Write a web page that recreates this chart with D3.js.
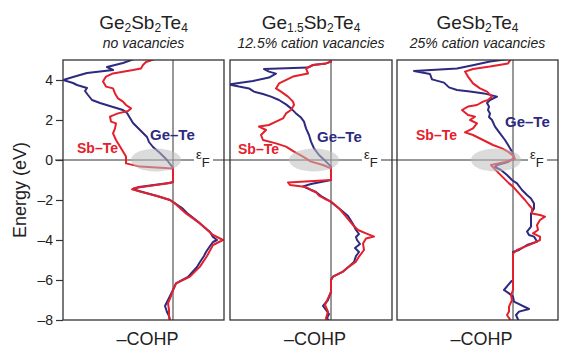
<!DOCTYPE html>
<html>
<head>
<meta charset="utf-8">
<script src="https://cdn.jsdelivr.net/npm/d3@7"></script>
<style>
  body { margin: 0; background: #fff; }
  svg { font-family: "Liberation Sans", Arial, Helvetica, sans-serif; }
</style>
</head>
<body>
<svg width="584" height="362"></svg>
<script>
// energy axis (eV)
const energyTicks = [-8, -6, -4, -2, 0, 2, 4];
const energyDomain = [-8, 5];

// panel titles: [text, subscript?]
const titles = [
  [["Ge", 0], ["2", 1], ["Sb", 0], ["2", 1], ["Te", 0], ["4", 1]],
  [["Ge", 0], ["1.5", 1], ["Sb", 0], ["2", 1], ["Te", 0], ["4", 1]],
  [["Ge", 0], ["Sb", 0], ["2", 1], ["Te", 0], ["4", 1]]
];
const subtitles = ["no vacancies", "12.5% cation vacancies", "25% cation vacancies"];

// -COHP (arb. units) vs energy, [E, -COHP]
const geTe1 = [[5.1,-36],[4.85,-50],[4.65,-66],[4.5,-60],[4.35,-86],[4.15,-100],[4.0,-110],[3.85,-100],[3.75,-96],
  [3.6,-86],[3.45,-88],[3.25,-85],[3.0,-81],[2.85,-73],[2.65,-60],[2.5,-50],[2.35,-46],[2.1,-43],[1.85,-40],
  [1.5,-33],[1.15,-26],[0.9,-24],[0.65,-20],[0.35,-13],[0,-6],[-0.4,0],[-1.1,0],[-1.15,-4],[-1.35,-34],
  [-1.45,-40],[-1.55,-34],[-1.8,-16],[-2.0,-3],[-2.17,2],[-2.4,9],[-2.65,14],[-3.17,27],[-3.6,37],[-3.85,40],
  [-4.0,44],[-4.1,40],[-4.3,37],[-4.6,33],[-4.8,31],[-5.1,27],[-5.35,24],[-5.85,15],[-6.17,3],[-6.5,0],
  [-7.0,-5],[-7.3,-8],[-7.6,-6],[-7.8,-4],[-8.05,-3]];
const sbTe1 = [[5.1,-15],[4.9,-27],[4.75,-30],[4.58,-32],[4.5,-40],[4.33,-60],[4.17,-67],[3.92,-70],[3.67,-67],
  [3.58,-60],[3.33,-58],[3.08,-55],[2.92,-50],[2.75,-47],[2.58,-42],[2.45,-45],[2.33,-55],[2.17,-63],[1.92,-62],
  [1.83,-57],[1.58,-58],[1.33,-60],[1.0,-57],[0.67,-53],[0.42,-50],[0.17,-47],[-0.17,-47],[-0.33,-33],[-0.42,0],
  [-1.1,0],[-1.15,-3],[-1.4,-38],[-1.47,-41],[-1.58,-33],[-1.8,-16],[-2.0,-3],[-2.17,2],[-2.67,13],[-3.17,27],
  [-3.75,40],[-4.0,50],[-4.25,40],[-4.8,34],[-5.33,27],[-5.83,17],[-6.17,3],[-6.5,0],[-6.8,-2],[-7.17,-5],
  [-7.5,-4],[-7.8,-4],[-8.05,-3]];

const geTe2 = [[5.05,-1],[4.92,0],[4.83,-5],[4.75,-18],[4.62,-23],[4.55,-67],[4.42,-62],[4.32,-55],[4.12,-62],
  [3.95,-78],[3.78,-102],[3.67,-92],[3.58,-82],[3.42,-77],[3.3,-68],[3.17,-60],[3.0,-52],[2.78,-45],[2.58,-40],
  [2.33,-35],[2.12,-30],[1.92,-27],[1.58,-25],[1.25,-22],[0.92,-20],[0.58,-17],[0.25,-12],[-0.08,-5],[-0.33,0],
  [-1.0,0],[-1.2,-20],[-1.32,-28],[-1.45,-22],[-1.6,-15],[-1.8,-10],[-2.0,-3],[-2.1,0],[-2.5,10],[-2.8,17],
  [-3.2,22],[-3.5,25],[-3.7,28],[-3.85,25],[-4.0,26],[-4.2,29],[-4.4,24],[-4.6,28],[-4.8,25],[-5.1,23],
  [-5.33,18],[-5.58,12],[-5.83,2],[-6.0,0],[-6.6,0],[-7.0,-3],[-7.3,-8],[-7.5,-5],[-7.7,-2],[-7.9,-4],[-8.05,-2]];
const sbTe2 = [[5.05,0],[4.92,0],[4.83,-5],[4.75,-18],[4.58,-25],[4.33,-23],[4.17,-38],[3.83,-52],[3.58,-55],
  [3.42,-50],[3.17,-43],[2.92,-38],[2.75,-37],[2.5,-40],[2.33,-45],[2.08,-48],[1.92,-55],[1.75,-62],[1.67,-72],
  [1.5,-65],[1.25,-70],[1.0,-68],[0.83,-55],[0.67,-45],[0.42,-37],[0.17,-28],[-0.08,-20],[-0.25,-8],[-0.42,0],
  [-1.0,0],[-1.12,-43],[-1.25,-41],[-1.35,-25],[-1.5,-20],[-1.62,-15],[-1.78,-12],[-1.95,-6],[-2.08,0],
  [-2.42,8],[-2.83,15],[-3.25,22],[-3.5,27],[-3.67,35],[-3.83,43],[-3.92,35],[-4.17,32],[-4.5,33],[-4.83,28],
  [-5.08,25],[-5.33,18],[-5.58,12],[-5.83,2],[-6.0,0],[-6.58,0],[-6.92,-3],[-7.25,-6],[-7.58,-3],[-7.92,-5],[-8.08,-3]];

const geTe3 = [[5.05,-4],[4.92,-23],[4.75,-39],[4.58,-56],[4.45,-99],[4.3,-83],[4.03,-81],[3.87,-69],[3.63,-64],
  [3.5,-56],[3.42,-43],[3.33,-29],[3.17,-16],[3.0,-23],[2.85,-26],[2.67,-24],[2.5,-25],[2.33,-23],[2.15,-24],
  [2.0,-21],[1.67,-18],[1.33,-13],[1.0,-8],[0.67,-4],[0.33,0],[0.1,1],[-0.1,-5],[-0.25,-16],[-0.35,-18],
  [-0.5,-12],[-0.75,-6],[-1.0,-1],[-1.17,4],[-1.5,9],[-1.75,14],[-1.92,18],[-2.17,21],[-2.42,21],[-2.67,18],
  [-3.0,18],[-3.33,18],[-3.58,14],[-3.75,16],[-3.83,21],[-4.08,24],[-4.25,14],[-4.5,6],[-4.6,0],[-6.0,0],
  [-6.08,-2],[-6.5,-9],[-6.67,-4],[-6.83,0],[-7.08,1],[-7.45,16],[-7.58,6],[-7.75,3],[-8.08,6]];
const sbTe3 = [[5.05,-2],[4.83,-5],[4.67,-23],[4.55,-40],[4.42,-48],[4.17,-45],[3.83,-40],[3.58,-33],[3.42,-26],
  [3.17,-21],[3.0,-25],[2.92,-30],[2.75,-36],[2.67,-45],[2.5,-51],[2.25,-45],[2.17,-38],[2.0,-43],[1.83,-36],
  [1.58,-40],[1.38,-48],[1.25,-40],[1.0,-30],[0.75,-20],[0.58,-11],[0.42,-5],[0.22,0],[0.05,2],[-0.1,-8],
  [-0.25,-22],[-0.42,-19],[-0.67,-14],[-0.92,-9],[-1.17,-4],[-1.33,0],[-1.67,6],[-2.0,12],[-2.25,16],[-2.42,19],
  [-2.67,19],[-2.75,27],[-2.83,32],[-3.0,27],[-3.25,24],[-3.5,25],[-3.67,20],[-3.83,27],[-4.0,27],[-4.17,20],
  [-4.33,12],[-4.5,4],[-4.67,0],[-6.5,0],[-6.75,-2],[-7.0,-1],[-7.33,-4],[-7.58,-4],[-7.75,-6],[-8.05,-2]];

const geTeSeries = [geTe1, geTe2, geTe3];
const sbTeSeries = [sbTe1, sbTe2, sbTe3];
const cohpDomains = [[-110, 51], [-101, 61], [-116, 45]];

// label anchors in data units [E, -COHP]
const geTeLabelAt = [[1.0, -23], [0.9, -14], [1.65, -8]];
const sbTeLabelAt = [[0.35, -96], [0.3, -93], [1.0, -97]];

const blue = "#2d2a80", red = "#e4202c", ink = "#333";

const svg = d3.select("svg");
const panelX = [[63, 224], [230, 392], [397, 558]];
const y = d3.scaleLinear().domain(energyDomain).range([320, 60]);

// Fermi level line across the whole figure
svg.append("line")
  .attr("x1", 55).attr("x2", 558)
  .attr("y1", y(0)).attr("y2", y(0))
  .attr("stroke", ink).attr("stroke-width", 1);

// left energy axis
svg.append("g")
  .attr("transform", "translate(63,0)")
  .call(d3.axisLeft(y).tickValues(energyTicks).tickSize(7).tickPadding(3)
    .tickFormat(d => d < 0 ? "\u2013" + Math.abs(d) : d))
  .call(g => g.select(".domain").remove())
  .call(g => g.selectAll("line").attr("stroke", ink).attr("stroke-width", 1.2))
  .call(g => g.selectAll("text").attr("font-size", 14).attr("fill", "#222")
    .attr("font-family", "Liberation Sans, Arial, sans-serif"));

svg.append("text")
  .attr("transform", "translate(26," + ((y(5) + y(-8)) / 2) + ") rotate(-90)")
  .attr("text-anchor", "middle")
  .attr("font-size", 18).attr("fill", "#222")
  .text("Energy (eV)");

const line = d3.line();

panelX.forEach((px, i) => {
  const x = d3.scaleLinear().domain(cohpDomains[i]).range(px);
  const g = svg.append("g");
  const cx = (px[0] + px[1]) / 2;

  g.append("clipPath").attr("id", "clip" + i)
    .append("rect")
    .attr("x", px[0]).attr("y", y(5))
    .attr("width", px[1] - px[0]).attr("height", y(-8) - y(5));

  // zero COHP line
  g.append("line")
    .attr("x1", x(0)).attr("x2", x(0))
    .attr("y1", y(5)).attr("y2", y(-8))
    .attr("stroke", ink).attr("stroke-width", 1);

  const curves = g.append("g").attr("clip-path", "url(#clip" + i + ")");
  line.x(d => x(d[1])).y(d => y(d[0]));
  curves.append("path").datum(geTeSeries[i])
    .attr("d", line).attr("fill", "none")
    .attr("stroke", blue).attr("stroke-width", 2).attr("stroke-linejoin", "round");
  curves.append("path").datum(sbTeSeries[i])
    .attr("d", line).attr("fill", "none")
    .attr("stroke", red).attr("stroke-width", 2).attr("stroke-linejoin", "round");

  // highlight near the Fermi level
  g.append("ellipse")
    .attr("cx", x(-17)).attr("cy", y(0))
    .attr("rx", 25).attr("ry", 11.5)
    .attr("fill", "#bdbdbd").attr("opacity", 0.55);

  // frame
  g.append("rect")
    .attr("x", px[0]).attr("y", y(5))
    .attr("width", px[1] - px[0]).attr("height", y(-8) - y(5))
    .attr("fill", "none").attr("stroke", ink).attr("stroke-width", 1.3);

  // epsilon_F label
  const ex = px[1] - 28;
  g.append("rect")
    .attr("x", ex - 2).attr("y", y(0) - 3)
    .attr("width", 19).attr("height", 6).attr("fill", "#fff");
  const ef = g.append("text").attr("x", ex).attr("y", y(0) - 1)
    .attr("font-size", 13).attr("fill", "#222");
  ef.append("tspan").text("\u03b5");
  ef.append("tspan").attr("dy", 8).attr("font-size", 13).text("F");

  // curve labels
  g.append("text")
    .attr("x", x(geTeLabelAt[i][1])).attr("y", y(geTeLabelAt[i][0]))
    .attr("font-size", 15).attr("font-weight", "bold").attr("fill", blue)
    .text("Ge\u2013Te");
  g.append("text")
    .attr("x", x(sbTeLabelAt[i][1])).attr("y", y(sbTeLabelAt[i][0]))
    .attr("font-size", 14).attr("font-weight", "bold").attr("fill", red)
    .text("Sb\u2013Te");

  // titles
  const t = svg.append("text").attr("x", cx).attr("y", 29)
    .attr("text-anchor", "middle").attr("font-size", 19).attr("fill", "#222");
  let sub = false;
  titles[i].forEach(p => {
    const ts = t.append("tspan").text(p[0]);
    if (p[1] && !sub) ts.attr("dy", 3).attr("font-size", 12);
    else if (!p[1] && sub) ts.attr("dy", -3);
    else if (p[1]) ts.attr("font-size", 12);
    sub = !!p[1];
  });
  svg.append("text").attr("x", cx).attr("y", 48)
    .attr("text-anchor", "middle").attr("font-size", 14)
    .attr("font-style", "italic").attr("fill", "#222")
    .text(subtitles[i]);

  svg.append("text").attr("x", cx + 4).attr("y", 345)
    .attr("text-anchor", "middle").attr("font-size", 18).attr("fill", "#222")
    .text("\u2013COHP");
});
</script>
</body>
</html>
